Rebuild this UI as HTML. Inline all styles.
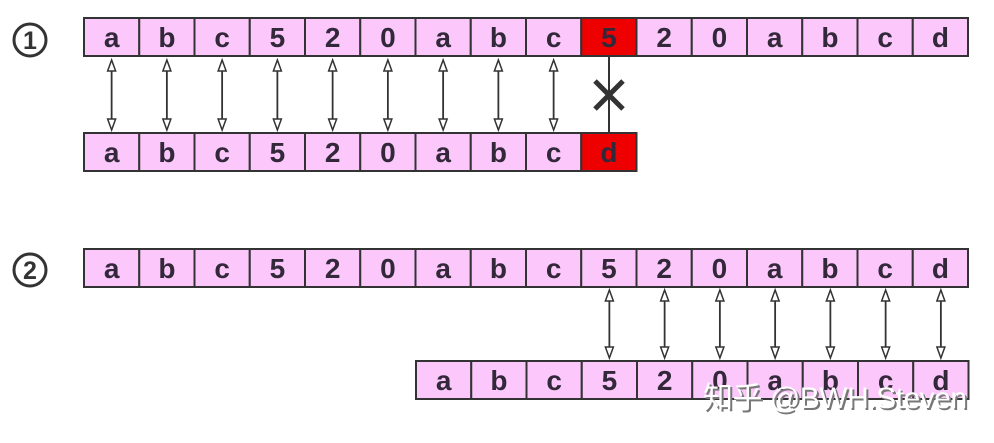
<!DOCTYPE html>
<html><head><meta charset="utf-8"><style>
body{margin:0;background:#fff;width:994px;height:438px;overflow:hidden}
</style></head><body>
<svg width="994" height="438" xmlns="http://www.w3.org/2000/svg" font-family="Liberation Sans, DejaVu Sans, sans-serif">
<g id="all"></g>
</svg>
<script>
const svg=document.getElementById('all');const NS='http://www.w3.org/2000/svg';
function el(t,a,txt){const e=document.createElementNS(NS,t);for(const k in a)e.setAttribute(k,a[k]);if(txt)e.textContent=txt;svg.appendChild(e);return e;}
const W=55.25,s="abc520abc520abcd";
function row(x0,y,str,red){for(let i=0;i<str.length;i++){const x=x0+i*W;el('rect',{x:x,y:y,width:W,height:38,fill:red===i?'#ee0000':'#fcc8fc',stroke:'#333','stroke-width':2});el('text',{x:x+W/2,y:y+29,'text-anchor':'middle','font-size':28,'font-weight':'bold',fill:'#33283a'},str[i]);}}
function arr(x,y1,y2){el('line',{x1:x,y1:y1+10,x2:x,y2:y2-10,stroke:'#333','stroke-width':1.8});
el('path',{d:`M${x},${y1} L${x-4},${y1+11} L${x+4},${y1+11} Z`,fill:'#fff',stroke:'#333','stroke-width':1.5});
el('path',{d:`M${x},${y2} L${x-4},${y2-11} L${x+4},${y2-11} Z`,fill:'#fff',stroke:'#333','stroke-width':1.5});}
row(84,18,s,9);row(84,133,"abc520abcd",9);
for(let i=0;i<9;i++)arr(84+i*W+W/2,60,130);
el('line',{x1:609,y1:57,x2:609,y2:133,stroke:'#333','stroke-width':2});
el('path',{d:'M595,81 L623,109 M623,81 L595,109',stroke:'#333','stroke-width':5});
row(84,249,s);row(416,361,"abc520abcd");
for(let i=0;i<7;i++)arr(416+3*W+i*W+W/2,290,358);
function circ(y,n){el('circle',{cx:30,cy:y,r:16,fill:'none',stroke:'#333','stroke-width':3});el('text',{x:30,y:y+9,'text-anchor':'middle','font-size':25,'font-weight':'bold',fill:'#333'},n);}
circ(40,'1');circ(270,'2');
el('text',{x:705,y:410,'font-size':30,fill:'#777','font-family':'Liberation Sans, Noto Sans CJK SC, sans-serif',textLength:264},'知乎 @BWH.Steven');
el('text',{x:703,y:408,'font-size':30,fill:'#fff','font-family':'Liberation Sans, Noto Sans CJK SC, sans-serif',textLength:264},'知乎 @BWH.Steven');
</script>
</body></html>
